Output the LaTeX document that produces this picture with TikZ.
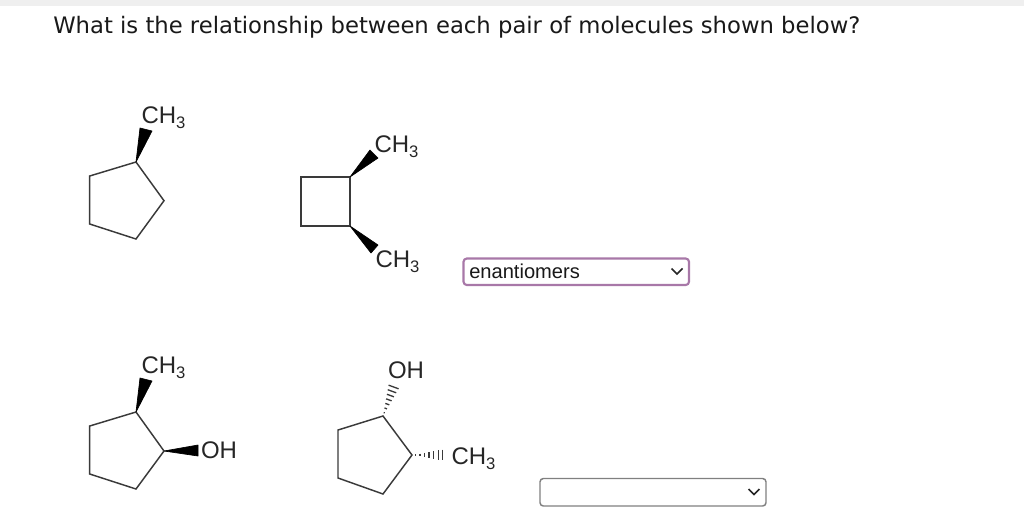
\documentclass[tikz,border=0pt]{standalone}
\usepackage{fontspec}
\setmainfont{Liberation Sans}
\newfontfamily\titlefont{DejaVu Sans}
\usepackage{tikz}
\usetikzlibrary{calc}
\definecolor{selectpurple}{HTML}{A878A8}
\definecolor{selectgray}{HTML}{808080}
\definecolor{bandgray}{HTML}{EFEFEF}
\definecolor{bondgray}{HTML}{3A3A3A}
\newcommand{\methyl}{CH\raisebox{-4pt}{\fontsize{12.5}{13}\selectfont 3}}
\tikzset{
  bond/.style={draw=bondgray,line width=1.1pt,line join=miter},
  wedge/.style={fill=black,draw=black,line width=0.5pt,line join=round},
  atom/.style={inner sep=0pt,font=\fontsize{18}{20}\selectfont,text=black!85},
  selectbox/.style={rounded corners=2.5pt,fill=white},
  chevron/.style={line width=1.1pt,draw=black!85}
}

\begin{document}
\begin{tikzpicture}[x=0.75pt,y=-0.75pt]
  \useasboundingbox (0,0) rectangle (1024,526);
  \fill[bandgray] (0,0) rectangle (1024,5.5);

  \node[anchor=base west,inner sep=0pt,font=\titlefont\fontsize{17.03}{20}\selectfont,text=black!90] (question)
    at (53,33) {What is the relationship between each pair of molecules shown below?};

  % top left
  \coordinate (A1) at (136,162);
  \coordinate (A2) at (89.7,176);
  \coordinate (A3) at (89.7,224);
  \coordinate (A4) at (136,239);
  \coordinate (A5) at (164,200.7);
  \draw[bond] (A1) -- (A2) -- (A3) -- (A4) -- (A5) -- cycle;
  \draw[wedge] (A1) -- (140,128) -- (152,131) -- cycle;
  \node[atom] (Ame) at (163.5,117.5) {\methyl};

  % top right
  \coordinate (B1) at (350,177);
  \coordinate (B2) at (301,177);
  \coordinate (B3) at (301,226);
  \coordinate (B4) at (350,226);
  \draw[bond] (B1) -- (B2) -- (B3) -- (B4) -- cycle;
  \draw[wedge] (B1) -- (370,150) -- (378,158) -- cycle;
  \draw[wedge] (B4) -- (378,245) -- (371,253) -- cycle;
  \node[atom] (Bme) at (396.5,146.5) {\methyl};
  \node[atom] (Bmf) at (397.5,261.5) {\methyl};

  % bottom left
  \coordinate (C1) at (136,412);
  \coordinate (C2) at (89.7,426);
  \coordinate (C3) at (89.7,474);
  \coordinate (C4) at (136,489);
  \coordinate (C5) at (164,451);
  \draw[bond] (C1) -- (C2) -- (C3) -- (C4) -- (C5) -- cycle;
  \draw[wedge] (C1) -- (140,378) -- (152,381) -- cycle;
  \draw[wedge] (C5) -- (198,445) -- (198,456) -- cycle;
  \node[atom] (Cme) at (163.5,367.5) {\methyl};
  \node[atom] (Coh) at (219,450) {OH};

  % bottom right
  \coordinate (D1) at (383,416);
  \coordinate (D2) at (338,430);
  \coordinate (D3) at (338,478);
  \coordinate (D4) at (383,494);
  \coordinate (D5) at (412,455);
  \coordinate (Dup) at (395,383);
  \coordinate (Dout) at (447,455);
  \draw[bond] (D1) -- (D2) -- (D3) -- (D4) -- (D5) -- cycle;
  \foreach \t/\w in {0.1/0.4,0.23/1,0.36/1.6,0.49/2.2,0.62/2.8,0.75/3.4,0.88/4,1/4.5}{
    \draw[line width=1pt,bondgray] ($(D1)!\t!(Dup)!\w pt!90:(Dup)$) -- ($(D1)!\t!(Dup)!\w pt!-90:(Dup)$);
    \draw[line width=1pt,bondgray] ($(D5)!\t!(Dout)!\w pt!90:(Dout)$) -- ($(D5)!\t!(Dout)!\w pt!-90:(Dout)$);
  }
  \node[atom] (Doh) at (406,370) {OH};
  \node[atom] (Dme) at (473.5,459) {\methyl};

  % answer boxes
  \draw[selectbox,draw=selectpurple,line width=1.6pt] (463.5,258.5) rectangle (689,285);
  \node[anchor=base west,inner sep=0pt,font=\fontsize{15.08}{17}\selectfont,text=black!90] (answer) at (469,278) {enantiomers};
  \draw[chevron] (671.5,268.5) -- (677,274) -- (682.5,268.5);

  \draw[selectbox,draw=selectgray,line width=1.1pt] (540,478.5) rectangle (766,506);
  \draw[chevron] (748.5,489) -- (754,494.5) -- (759.5,489);
\end{tikzpicture}
\end{document}
